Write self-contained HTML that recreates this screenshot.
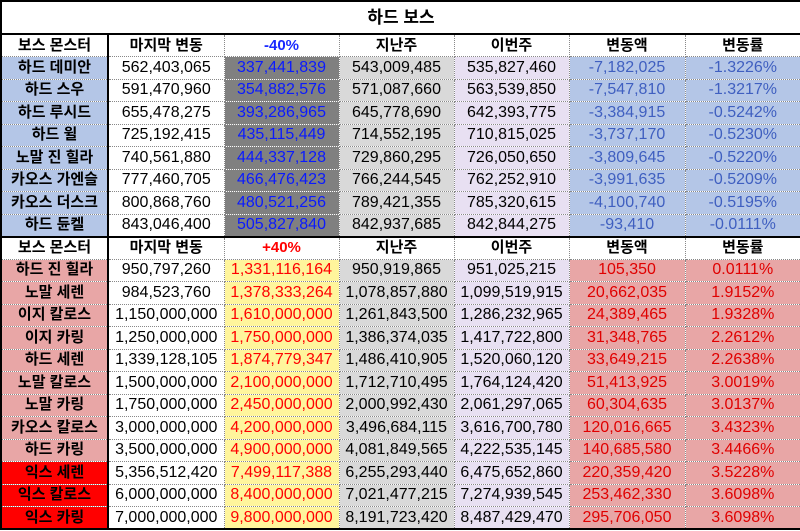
<!DOCTYPE html>
<html><head><meta charset="utf-8"><style>
*{margin:0;padding:0;box-sizing:border-box}
body{width:800px;height:531px;background:#fff;overflow:hidden;font-family:"Liberation Sans","Noto Sans CJK KR",sans-serif}
table{position:absolute;left:0;top:0;width:800px;border-collapse:collapse;table-layout:fixed;border:2px solid #000}
td{height:22.5px;text-align:center;font-size:16px;color:#000;border:1px dotted #888;white-space:nowrap;overflow:hidden;line-height:20px}
td.n{font-weight:bold;font-size:15px;border-right:2px solid #000}
tr.title td{height:33px;font-weight:bold;font-size:17px;border-bottom:2px solid #000}
tr.hd td{background:#fff;font-size:15px;font-weight:bold}
tr.hd2 td{border-top:2px solid #000}
.bl{background:#b4c6e7}.pk{background:#e8a6a6}.rd{background:#ff0000}
.g{background:#808080;color:#0a1aff}.lg{background:#d9d9d9}.lv{background:#e8e0f2}
.bc{background:#b4c6e7;color:#3f5fc0}.yl{background:#fff59c;color:#ff0000}.pc{background:#e8a6a6;color:#e00000}
</style></head><body>
<table>
<colgroup><col style="width:107px"><col style="width:116px"><col style="width:115px"><col style="width:115px"><col style="width:115px"><col style="width:116px"><col style="width:116px"></colgroup>
<tr class="title"><td colspan="7">하드 보스</td></tr>
<tr class="hd"><td class="n">보스 몬스터</td><td>마지막 변동</td><td style="color:#1a2aff">-40%</td><td>지난주</td><td>이번주</td><td>변동액</td><td>변동률</td></tr>
<tr><td class="n bl">하드 데미안</td><td>562,403,065</td><td class="g">337,441,839</td><td class="lg">543,009,485</td><td class="lv">535,827,460</td><td class="bc">-7,182,025</td><td class="bc">-1.3226%</td></tr>
<tr><td class="n bl">하드 스우</td><td>591,470,960</td><td class="g">354,882,576</td><td class="lg">571,087,660</td><td class="lv">563,539,850</td><td class="bc">-7,547,810</td><td class="bc">-1.3217%</td></tr>
<tr><td class="n bl">하드 루시드</td><td>655,478,275</td><td class="g">393,286,965</td><td class="lg">645,778,690</td><td class="lv">642,393,775</td><td class="bc">-3,384,915</td><td class="bc">-0.5242%</td></tr>
<tr><td class="n bl">하드 윌</td><td>725,192,415</td><td class="g">435,115,449</td><td class="lg">714,552,195</td><td class="lv">710,815,025</td><td class="bc">-3,737,170</td><td class="bc">-0.5230%</td></tr>
<tr><td class="n bl">노말 진 힐라</td><td>740,561,880</td><td class="g">444,337,128</td><td class="lg">729,860,295</td><td class="lv">726,050,650</td><td class="bc">-3,809,645</td><td class="bc">-0.5220%</td></tr>
<tr><td class="n bl">카오스 가엔슬</td><td>777,460,705</td><td class="g">466,476,423</td><td class="lg">766,244,545</td><td class="lv">762,252,910</td><td class="bc">-3,991,635</td><td class="bc">-0.5209%</td></tr>
<tr><td class="n bl">카오스 더스크</td><td>800,868,760</td><td class="g">480,521,256</td><td class="lg">789,421,355</td><td class="lv">785,320,615</td><td class="bc">-4,100,740</td><td class="bc">-0.5195%</td></tr>
<tr><td class="n bl">하드 듄켈</td><td>843,046,400</td><td class="g">505,827,840</td><td class="lg">842,937,685</td><td class="lv">842,844,275</td><td class="bc">-93,410</td><td class="bc">-0.0111%</td></tr>
<tr class="hd hd2"><td class="n">보스 몬스터</td><td>마지막 변동</td><td style="color:#ff0000">+40%</td><td>지난주</td><td>이번주</td><td>변동액</td><td>변동률</td></tr>
<tr><td class="n pk">하드 진 힐라</td><td>950,797,260</td><td class="yl">1,331,116,164</td><td class="lg">950,919,865</td><td class="lv">951,025,215</td><td class="pc">105,350</td><td class="pc">0.0111%</td></tr>
<tr><td class="n pk">노말 세렌</td><td>984,523,760</td><td class="yl">1,378,333,264</td><td class="lg">1,078,857,880</td><td class="lv">1,099,519,915</td><td class="pc">20,662,035</td><td class="pc">1.9152%</td></tr>
<tr><td class="n pk">이지 칼로스</td><td>1,150,000,000</td><td class="yl">1,610,000,000</td><td class="lg">1,261,843,500</td><td class="lv">1,286,232,965</td><td class="pc">24,389,465</td><td class="pc">1.9328%</td></tr>
<tr><td class="n pk">이지 카링</td><td>1,250,000,000</td><td class="yl">1,750,000,000</td><td class="lg">1,386,374,035</td><td class="lv">1,417,722,800</td><td class="pc">31,348,765</td><td class="pc">2.2612%</td></tr>
<tr><td class="n pk">하드 세렌</td><td>1,339,128,105</td><td class="yl">1,874,779,347</td><td class="lg">1,486,410,905</td><td class="lv">1,520,060,120</td><td class="pc">33,649,215</td><td class="pc">2.2638%</td></tr>
<tr><td class="n pk">노말 칼로스</td><td>1,500,000,000</td><td class="yl">2,100,000,000</td><td class="lg">1,712,710,495</td><td class="lv">1,764,124,420</td><td class="pc">51,413,925</td><td class="pc">3.0019%</td></tr>
<tr><td class="n pk">노말 카링</td><td>1,750,000,000</td><td class="yl">2,450,000,000</td><td class="lg">2,000,992,430</td><td class="lv">2,061,297,065</td><td class="pc">60,304,635</td><td class="pc">3.0137%</td></tr>
<tr><td class="n pk">카오스 칼로스</td><td>3,000,000,000</td><td class="yl">4,200,000,000</td><td class="lg">3,496,684,115</td><td class="lv">3,616,700,780</td><td class="pc">120,016,665</td><td class="pc">3.4323%</td></tr>
<tr><td class="n pk">하드 카링</td><td>3,500,000,000</td><td class="yl">4,900,000,000</td><td class="lg">4,081,849,565</td><td class="lv">4,222,535,145</td><td class="pc">140,685,580</td><td class="pc">3.4466%</td></tr>
<tr><td class="n rd">익스 세렌</td><td>5,356,512,420</td><td class="yl">7,499,117,388</td><td class="lg">6,255,293,440</td><td class="lv">6,475,652,860</td><td class="pc">220,359,420</td><td class="pc">3.5228%</td></tr>
<tr><td class="n rd">익스 칼로스</td><td>6,000,000,000</td><td class="yl">8,400,000,000</td><td class="lg">7,021,477,215</td><td class="lv">7,274,939,545</td><td class="pc">253,462,330</td><td class="pc">3.6098%</td></tr>
<tr><td class="n rd">익스 카링</td><td>7,000,000,000</td><td class="yl">9,800,000,000</td><td class="lg">8,191,723,420</td><td class="lv">8,487,429,470</td><td class="pc">295,706,050</td><td class="pc">3.6098%</td></tr>
</table>
</body></html>
